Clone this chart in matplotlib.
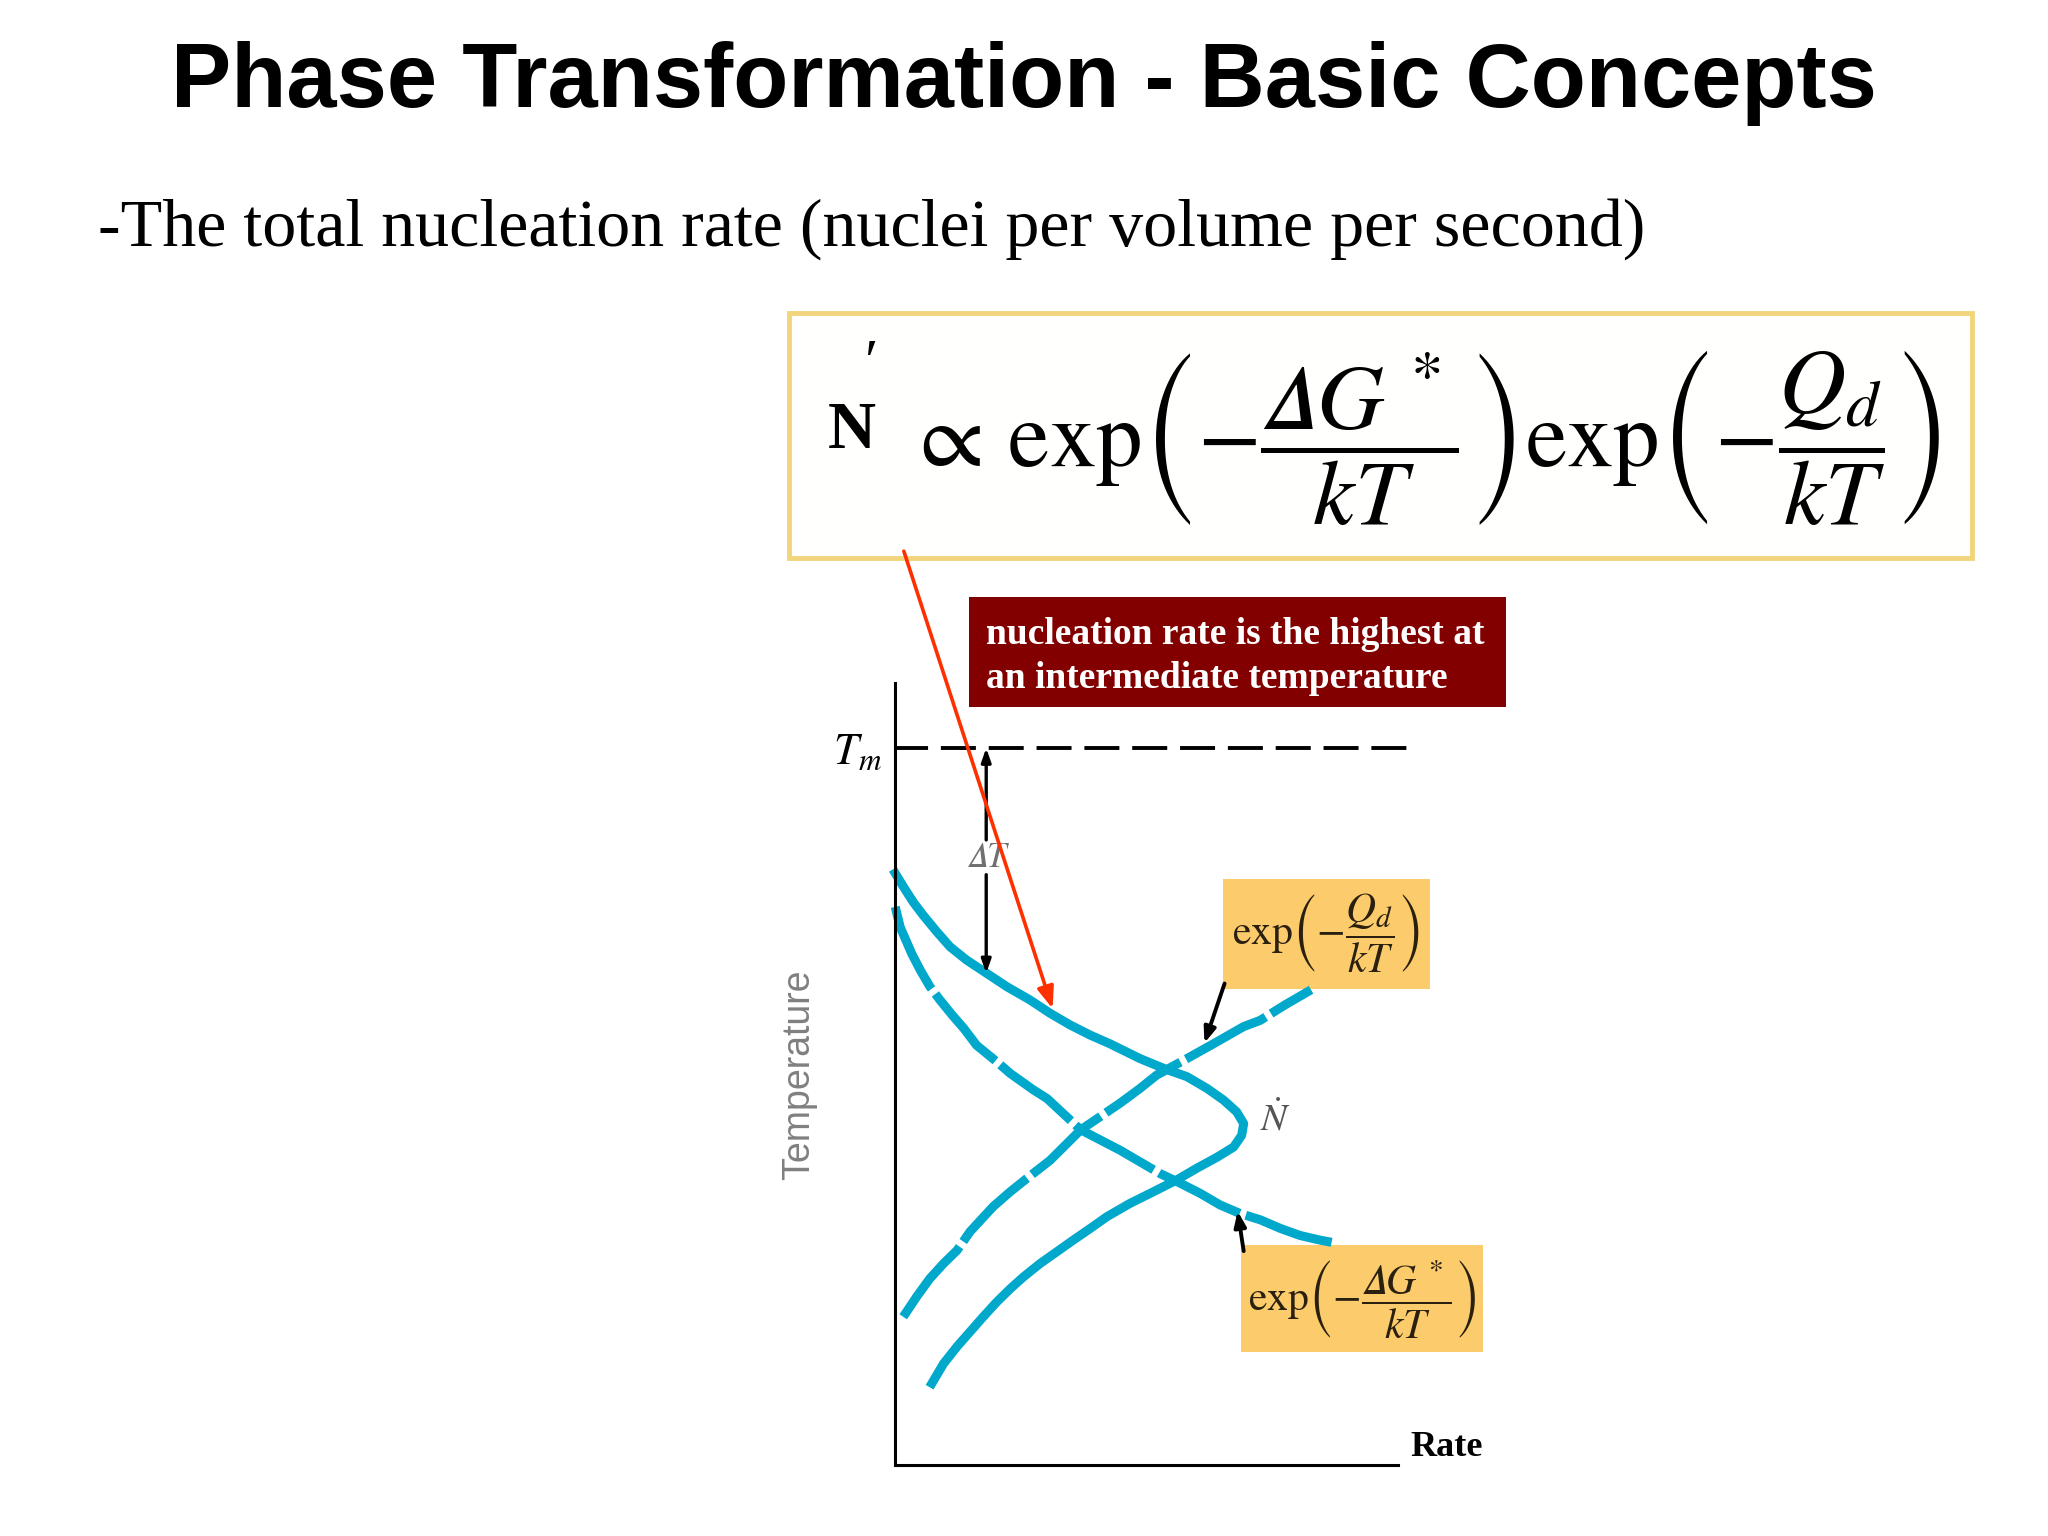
import numpy as np
import matplotlib
matplotlib.use("Agg")
import matplotlib.pyplot as plt
from matplotlib.patches import Rectangle

plt.rcParams['mathtext.fontset'] = 'stix'

# ---- data (rate / temperature in arbitrary units 0-100) ----
# total nucleation rate N-dot (the "nose" curve)
n_rate = [0.1, 1.7, 3.7, 5.7, 8.4, 11.0, 14.3, 18.3, 22.3, 26.9, 30.9, 34.9, 38.9, 42.8,
          48.8, 54.1, 58.1, 62.1, 65.4, 68.0, 69.4, 69.0, 67.4, 64.1, 60.1, 56.1, 51.5,
          46.8, 42.2, 38.9, 35.5, 32.2, 28.9, 25.6, 23.0, 20.3, 17.6, 15.0, 12.4, 9.7, 7.4]
n_temp = [75.7, 74.0, 72.0, 70.3, 68.2, 66.3, 64.6, 62.9, 61.2, 59.5, 57.8, 56.3, 55.0, 53.9,
          52.0, 50.6, 49.7, 48.2, 46.7, 45.2, 43.7, 42.2, 40.7, 39.4, 38.0, 36.5, 35.0,
          33.5, 31.8, 30.3, 28.8, 27.3, 25.8, 24.1, 22.6, 20.9, 19.0, 17.1, 15.2, 13.0, 10.5]

# exp(-dG*/kT)
dg_rate = [0.1, 1.1, 3.4, 5.1, 7.0, 9.0, 11.4, 13.7, 16.3, 20.3, 23.0, 27.6, 30.3, 37.0,
           40.9, 44.8, 48.8, 52.8, 56.1, 60.7, 64.7, 68.7, 72.7, 76.7, 80.6, 84.6, 87.9]
dg_temp = [71.4, 68.8, 65.4, 63.3, 61.2, 59.5, 57.6, 55.9, 53.7, 51.6, 50.1, 48.0, 46.9, 42.9,
           41.6, 40.3, 38.8, 37.3, 36.3, 34.8, 33.3, 32.2, 31.4, 30.3, 29.4, 28.8, 28.4]

# exp(-Qd/kT)
qd_rate = [1.7, 4.4, 7.0, 9.7, 12.4, 15.0, 19.6, 23.0, 26.3, 30.9, 37.0, 40.9, 44.8,
           48.8, 52.1, 54.1, 58.1, 63.4, 69.4, 72.7, 77.7, 82.8]
qd_temp = [19.0, 21.6, 23.9, 25.8, 27.5, 29.9, 33.1, 35.0, 36.7, 39.0, 42.9, 44.6, 46.3,
           48.2, 49.9, 50.6, 52.0, 53.9, 56.1, 56.9, 58.9, 60.8]

t_melt = 91.7
undercool_to = 62.9

title = "Phase Transformation - Basic Concepts"
subtitle = "-The total nucleation rate (nuclei per volume per second)"
note_lines = ["nucleation rate is the highest at", "an intermediate temperature"]

cyan = '#00a8cc'
orange = '#fccb6b'
DELTA = '\U0001D6E5'   # italic capital delta

fig = plt.figure(figsize=(20.48, 15.36), dpi=100)

# background layer in slide coordinates
bg = fig.add_axes([0, 0, 1, 1])
bg.set_xlim(0, 1568)
bg.set_ylim(1176, 0)
bg.axis('off')

bg.text(784, 82, title, ha='center', va='baseline', fontsize=65,
        fontweight='bold', family='Liberation Sans')
bg.text(75, 188, subtitle, ha='left', va='baseline', fontsize=49,
        family='Liberation Serif')

# formula box
bg.add_patch(Rectangle((604, 240), 906, 187, facecolor='#fffffd',
                       edgecolor='#f2d47c', lw=3.5))
bg.text(634, 343, "N", ha='left', va='baseline', fontsize=48,
        fontweight='bold', family='Liberation Serif')
bg.text(662, 292, "′", ha='left', va='baseline', fontsize=44,
        family='Liberation Serif')
bg.text(694, 357,
        r"$\propto\,\mathrm{exp}\left(-\dfrac{" + DELTA + r"G^{\,*}}{kT}\right)"
        r"\mathrm{exp}\left(-\dfrac{Q_d}{kT}\right)$",
        ha='left', va='baseline', fontsize=67)

# dark red note
bg.add_patch(Rectangle((742, 457), 411, 84, facecolor='#820000', edgecolor='none'))
for i, line in enumerate(note_lines):
    bg.text(755, 493 + 34 * i, line, ha='left', va='baseline', fontsize=27,
            fontweight='bold', color='white', family='Liberation Serif')

# ---- the chart ----
ax = fig.add_axes([685 / 1568, 1 - 1122 / 1176, 385 / 1568, 599 / 1176])
ax.set_xlim(0, 100)
ax.set_ylim(0, 100)
ax.patch.set_visible(False)
for s in ['top', 'right']:
    ax.spines[s].set_visible(False)
for s in ['left', 'bottom']:
    ax.spines[s].set_linewidth(2.2)
ax.set_xticks([])
ax.set_yticks([])

ax.plot(dg_rate, dg_temp, color=cyan, lw=6.5, ls=(0, (10, 0.7)), clip_on=False)
ax.plot(qd_rate, qd_temp, color=cyan, lw=6.5, ls=(0, (10, 0.7)), clip_on=False)
ax.plot(n_rate, n_temp, color=cyan, lw=6.5, clip_on=False, solid_joinstyle='round')

ax.plot([0, 102], [t_melt, t_melt], color='black', lw=2.8, ls=(0.5, (9, 3.3)),
        clip_on=False)
ax.text(-2.5, t_melt - 0.5, r"$\mathbf{\mathit{T}}_{m}$", ha='right', va='center',
        fontsize=32)

# undercooling arrow
ax.annotate('', xy=(18.2, t_melt), xytext=(18.2, 78),
            arrowprops=dict(arrowstyle='-|>,head_length=0.8,head_width=0.28',
                            color='black', lw=2.4, shrinkA=11, shrinkB=0))
ax.annotate('', xy=(18.2, undercool_to), xytext=(18.2, 78),
            arrowprops=dict(arrowstyle='-|>,head_length=0.8,head_width=0.28',
                            color='black', lw=2.4, shrinkA=14, shrinkB=0))
ax.text(18.7, 77.8, "$" + DELTA + "T$", ha='center', va='center',
        fontsize=25, color='#707070')

ax.text(-19, 50, "Temperature", rotation=90, ha='center', va='center',
        fontsize=27, color='#808080', family='Liberation Sans')
ax.text(102.6, 1.2, "Rate", ha='left', va='baseline', fontsize=26,
        fontweight='bold', family='Liberation Serif')
ax.text(75.8, 44.2, r"$\dot{N}$", ha='center', va='center', fontsize=28,
        color='#555555')

# labels of the two factors
ax.add_patch(Rectangle((65.2, 60.9), 41.3, 14.1, facecolor=orange,
                       edgecolor='none', clip_on=False))
ax.text(85.8, 68.0, r"$\mathrm{exp}\left(-\dfrac{Q_d}{kT}\right)$",
        ha='center', va='center', fontsize=30, color='#2a2010')
ax.add_patch(Rectangle((68.8, 14.5), 48.2, 13.7, facecolor=orange,
                       edgecolor='none', clip_on=False))
ax.text(92.9, 21.3, r"$\mathrm{exp}\left(-\dfrac{" + DELTA + r"G^{\,*}}{kT}\right)$",
        ha='center', va='center', fontsize=30, color='#2a2010')

ax.annotate('', xy=(61.6, 54.0), xytext=(65.6, 61.6),
            arrowprops=dict(arrowstyle='-|>,head_length=0.9,head_width=0.35',
                            color='black', lw=2.8, shrinkA=0, shrinkB=0),
            annotation_clip=False)
ax.annotate('', xy=(68.2, 32.5), xytext=(69.4, 27.4),
            arrowprops=dict(arrowstyle='-|>,head_length=0.9,head_width=0.35',
                            color='black', lw=2.8, shrinkA=0, shrinkB=0),
            annotation_clip=False)

# red arrow from the formula to the curve
ax.annotate('', xy=(31.4, 58.4), xytext=(692, 422), textcoords=bg.transData,
            arrowprops=dict(arrowstyle='-|>,head_length=1.3,head_width=0.5',
                            color='#ff3000', lw=2.6, shrinkA=0, shrinkB=0),
            annotation_clip=False)

fig.savefig("out.png", dpi=100)
